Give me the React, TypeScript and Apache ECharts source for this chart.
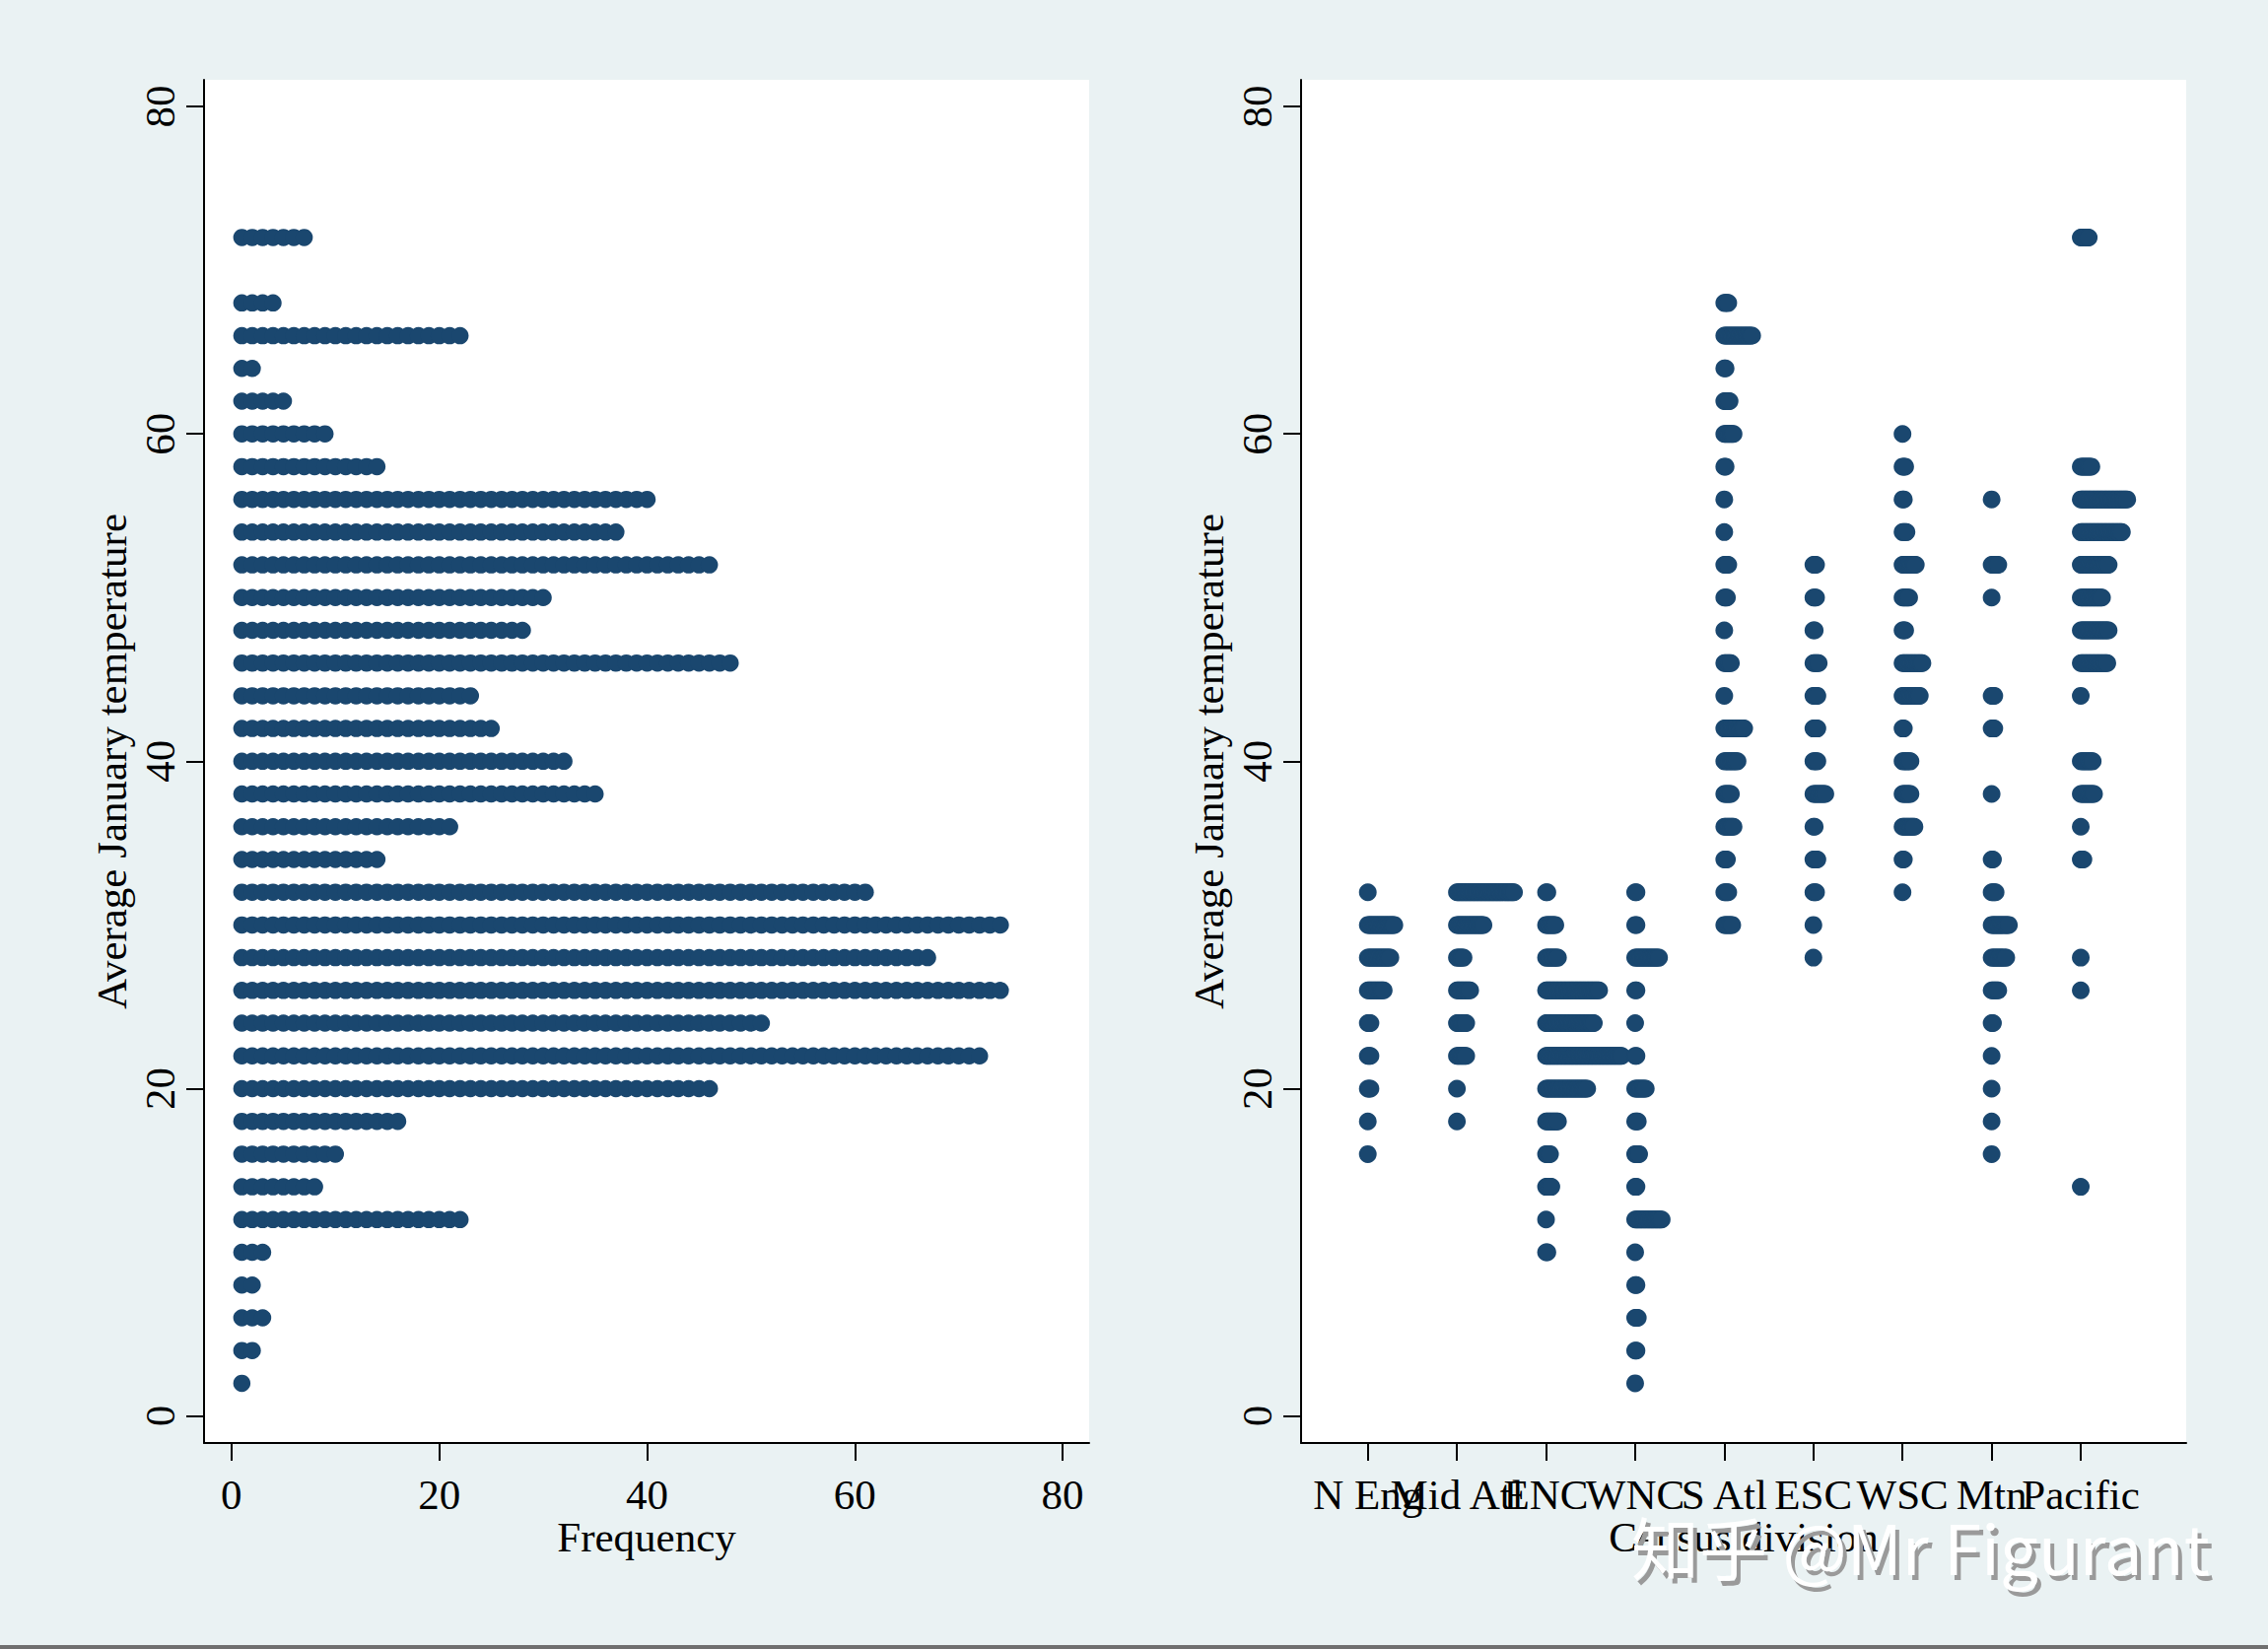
import React, { useEffect, useRef } from "react";
import * as echarts from "echarts";

// ---- Left panel: frequency of each January temperature value ----
const tempLevels = [2, 4, 6, 8, 10, 12, 14, 16, 18, 20, 22, 24, 26, 28, 30, 32, 34, 36, 38, 40, 42, 44, 46, 48, 50, 52, 54, 56, 58, 60, 62, 64, 66, 68, 72];
const frequency = [1, 2, 3, 2, 3, 22, 8, 10, 16, 46, 72, 51, 74, 67, 74, 61, 14, 21, 35, 32, 25, 23, 48, 28, 30, 46, 37, 40, 14, 9, 5, 2, 22, 4, 7];

// ---- Right panel: [temperature, count] by census division ----
const divisionNames = ["N Eng", "Mid Atl", "ENC", "WNC", "S Atl", "ESC", "WSC", "Mtn", "Pacific"];
const nEng = [[16, 1], [18, 1], [20, 3], [22, 3], [24, 3], [26, 13], [28, 18], [30, 21], [32, 1]];
const midAtl = [[18, 1], [20, 1], [22, 8], [24, 8], [26, 11], [28, 6], [30, 21], [32, 44]];
const enc = [[10, 2], [12, 1], [14, 5], [16, 4], [18, 10], [20, 32], [22, 58], [24, 37], [26, 41], [28, 10], [30, 8], [32, 2]];
const wnc = [[2, 1], [4, 2], [6, 3], [8, 2], [10, 1], [12, 21], [14, 2], [16, 4], [18, 3], [20, 9], [22, 2], [24, 1], [26, 2], [28, 19], [30, 2], [32, 2]];
const sAtl = [[30, 7], [32, 4], [34, 3], [36, 8], [38, 6], [40, 11], [42, 16], [44, 1], [46, 6], [48, 1], [50, 3], [52, 4], [54, 1], [56, 1], [58, 2], [60, 8], [62, 5], [64, 2], [66, 22], [68, 4]];
const esc = [[28, 1], [30, 1], [32, 3], [34, 4], [36, 2], [38, 10], [40, 4], [42, 4], [44, 4], [46, 5], [48, 2], [50, 3], [52, 3]];
const wsc = [[32, 1], [34, 2], [36, 10], [38, 7], [40, 7], [42, 2], [44, 14], [46, 16], [48, 3], [50, 6], [52, 11], [54, 4], [56, 2], [58, 3], [60, 1]];
const mtn = [[16, 1], [18, 1], [20, 1], [22, 1], [24, 2], [26, 6], [28, 12], [30, 14], [32, 4], [34, 2], [38, 1], [42, 3], [44, 3], [50, 1], [52, 6], [56, 1]];
const pacific = [[14, 1], [26, 1], [28, 1], [34, 3], [36, 1], [38, 11], [40, 10], [44, 1], [46, 21], [48, 22], [50, 17], [52, 22], [54, 32], [56, 36], [58, 9], [72, 7]];
const divisionCounts = [nEng, midAtl, enc, wnc, sAtl, esc, wsc, mtn, pacific];

// ---- Tick labels ----
const tempTicks = [0, 20, 40, 60, 80];
const freqTicks = [0, 20, 40, 60, 80];
const divisionTicks = [1, 2, 3, 4, 5, 6, 7, 8, 9];

const DOT_COLOR = "#1a476f";
const BG = "#eaf2f3";
const DOT_STEP = 0.0149; // horizontal offset per observation within a division
const SERIF = "Liberation Serif";

export default function App() {
  const ref = useRef<HTMLDivElement>(null);

  useEffect(() => {
    const chart = echarts.init(ref.current as HTMLDivElement, null, { renderer: "svg" });

    const leftData: number[][] = [];
    tempLevels.forEach((t, i) => {
      for (let k = 1; k <= frequency[i]; k++) leftData.push([k, t]);
    });
    const rightData: number[][] = [];
    divisionCounts.forEach((list, d) => {
      list.forEach(([t, c]) => {
        for (let k = 0; k < c; k++) rightData.push([d + 1 + k * DOT_STEP, t]);
      });
    });

    const font = { fontFamily: SERIF, fontSize: 43, color: "#000" };
    const lineStyle = { color: "#000", width: 2 };

    const yAxisCommon = (gridIndex: number) => ({
      type: "value",
      gridIndex,
      min: -1.65,
      max: 81.63,
      axisLine: { show: true, onZero: false, lineStyle },
      axisTick: { show: true, length: 18, lineStyle, customValues: tempTicks },
      axisLabel: { show: true, rotate: 90, margin: 23, customValues: tempTicks, ...font },
      splitLine: { show: false },
      name: "Average January temperature",
      nameLocation: "middle",
      nameGap: 72,
      nameRotate: 90,
      nameMoveOverlap: false,
      nameTextStyle: font,
    });

    const watermark = (x: number, y: number, fill: string, z: number) => ({
      type: "text",
      x,
      y,
      z,
      silent: true,
      style: {
        text: "知乎 @Mr Figurant",
        fill,
        font: "69px 'Noto Sans CJK SC', 'Noto Sans', sans-serif",
        textVerticalAlign: "top",
      },
    });

    const baseGraphics: any[] = [
      watermark(1659, 1538, "#9a9a9a", 100),
      watermark(1655, 1533, "#ffffff", 101),
      {
        type: "rect",
        z: 100,
        silent: true,
        shape: { x: 0, y: 1669, width: 2301, height: 4 },
        style: { fill: "#6f6f6f" },
      },
    ];

    const option: any = {
      animation: false,
      backgroundColor: BG,
      grid: [
        { left: 207, top: 81, width: 898, height: 1383, show: true, backgroundColor: "#fff", borderWidth: 0, outerBoundsMode: "none", containLabel: false },
        { left: 1320, top: 81, width: 898, height: 1383, show: true, backgroundColor: "#fff", borderWidth: 0, outerBoundsMode: "none", containLabel: false },
      ],
      xAxis: [
        {
          type: "value",
          gridIndex: 0,
          min: -2.64,
          max: 82.55,
          axisLine: { show: true, onZero: false, lineStyle },
          axisTick: { show: true, length: 18, lineStyle, customValues: freqTicks },
          axisLabel: { show: true, margin: 31, customValues: freqTicks, ...font },
          splitLine: { show: false },
          name: "Frequency",
          nameLocation: "middle",
          nameGap: 74,
          nameMoveOverlap: false,
          nameTextStyle: font,
        },
        {
          type: "value",
          gridIndex: 1,
          min: 0.2512,
          max: 10.183,
          axisLine: { show: true, onZero: false, lineStyle },
          axisTick: { show: true, length: 18, lineStyle, customValues: divisionTicks },
          axisLabel: { show: false },
          splitLine: { show: false },
          name: "Census division",
          nameLocation: "middle",
          nameGap: 74,
          nameMoveOverlap: false,
          nameTextStyle: font,
        },
      ],
      yAxis: [yAxisCommon(0), yAxisCommon(1)],
      series: [
        {
          type: "scatter",
          xAxisIndex: 0,
          yAxisIndex: 0,
          data: leftData,
          symbol: "circle",
          symbolSize: 17.5,
          itemStyle: { color: DOT_COLOR, opacity: 1 },
          silent: true,
          progressive: 0,
          large: false,
        },
        {
          type: "scatter",
          xAxisIndex: 1,
          yAxisIndex: 1,
          data: rightData,
          symbol: "circle",
          symbolSize: 18,
          itemStyle: { color: DOT_COLOR, opacity: 1 },
          silent: true,
          progressive: 0,
          large: false,
        },
      ],
      graphic: baseGraphics,
    };

    chart.setOption(option);

    // Division tick labels placed at the axis' own tick positions (they overlap, as in the original)
    const labelGraphics = divisionTicks.map((v, i) => {
      const px = chart.convertToPixel({ xAxisIndex: 1 }, v) as number;
      return {
        type: "text",
        x: px,
        y: 1464 + 31,
        z: 50,
        silent: true,
        style: {
          text: divisionNames[i],
          fill: "#000",
          font: `43px '${SERIF}'`,
          textAlign: "center",
          textVerticalAlign: "top",
        },
      };
    });
    chart.setOption({ graphic: [...baseGraphics, ...labelGraphics] });

    return () => chart.dispose();
  }, []);

  return <div ref={ref} style={{ position: "fixed", left: 0, top: 0, width: 2301, height: 1673 }} />;
}
